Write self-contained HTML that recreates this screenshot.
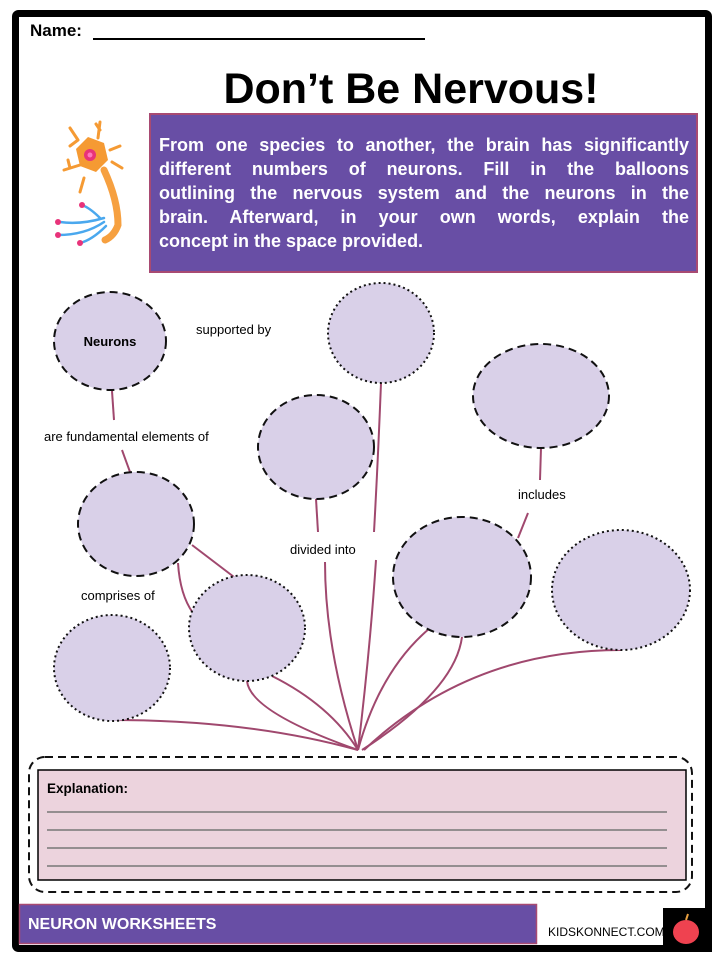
<!DOCTYPE html>
<html><head><meta charset="utf-8"><style>
html,body{margin:0;padding:0;background:#fff}
svg{display:block}
text{font-family:"Liberation Sans",sans-serif}
#para{position:absolute;left:159px;top:133px;width:530px;color:#fff;font-family:"Liberation Sans",sans-serif;font-weight:bold;font-size:18px;line-height:24px}
#para div{text-align:justify;text-align-last:justify;white-space:nowrap}
#para div.l{text-align-last:left}
</style></head><body>
<div style="position:relative;width:720px;height:960px">
<svg width="720" height="960" viewBox="0 0 720 960" xmlns="http://www.w3.org/2000/svg">
<rect x="0" y="0" width="720" height="960" fill="#fff"/>
<rect x="15.5" y="13.5" width="693" height="935" rx="3" fill="#fff" stroke="#000" stroke-width="7"/>
<text x="30" y="36" font-size="17" font-weight="bold">Name:</text>
<line x1="93" y1="39" x2="425" y2="39" stroke="#000" stroke-width="2"/>
<text x="411" y="103" font-size="43" font-weight="bold" text-anchor="middle">Don’t Be Nervous!</text>
<rect x="150" y="114" width="547" height="158" fill="#684ea5" stroke="#a84a72" stroke-width="2"/>
<!-- neuron icon -->
<g stroke="#f59a33" stroke-width="3" fill="none" stroke-linecap="round">
<path d="M78 140 L70 128 M78 140 L70 146 M98 138 L100 122 M100 130 L96 124 M110 150 L120 146 M112 162 L122 168 M80 165 L64 170 M70 168 L68 160 M84 178 L80 192"/>
<path d="M104 170 Q118 200 118 225 Q114 236 105 240" stroke="#f6a040" stroke-width="7"/>
<path d="M104 218 Q80 225 60 222 M104 222 Q85 235 58 235 M106 226 Q92 240 80 243 M100 218 Q90 208 82 205" stroke="#4aa8ee" stroke-width="2.5"/>
</g>
<polygon points="88,137 104,143 108,160 96,172 80,166 76,149" fill="#f59a33"/>
<circle cx="90" cy="155" r="6" fill="#e8337a"/><circle cx="90" cy="155" r="2.5" fill="#f7b"/>
<g fill="#e8337a"><circle cx="82" cy="205" r="3"/><circle cx="58" cy="222" r="3"/><circle cx="58" cy="235" r="3"/><circle cx="80" cy="243" r="3"/></g>
<!-- connectors -->
<g stroke="#a0486e" stroke-width="2" fill="none">
<path d="M112 391 L114 420"/>
<path d="M122 450 L130 472"/>
<path d="M192 545 L234 577"/>
<path d="M178 563 Q180 595 193 613"/>
<path d="M541 448 L540 480"/>
<path d="M528 513 L518 538"/>
<path d="M316 499 L318 532"/>
<path d="M381 383 Q378 460 374 532"/>
<path d="M113 720 Q250 720 358 750"/>
<path d="M247 681 Q250 712 358 750"/>
<path d="M272 676 Q330 705 358 750"/>
<path d="M325 562 Q325 650 358 750"/>
<path d="M376 560 Q370 650 358 750"/>
<path d="M430 628 Q380 670 358 750"/>
<path d="M462 637 Q455 690 362 750"/>
<path d="M621 650 Q470 650 364 750"/>
</g>
<!-- balloons -->
<g fill="#d9d0e8" stroke="#111" stroke-width="2">
<ellipse cx="110" cy="341" rx="56" ry="49" stroke-dasharray="8,5"/>
<ellipse cx="381" cy="333" rx="53" ry="50" stroke-dasharray="2,3"/>
<ellipse cx="541" cy="396" rx="68" ry="52" stroke-dasharray="8,5"/>
<ellipse cx="316" cy="447" rx="58" ry="52" stroke-dasharray="8,5"/>
<ellipse cx="136" cy="524" rx="58" ry="52" stroke-dasharray="8,5"/>
<ellipse cx="462" cy="577" rx="69" ry="60" stroke-dasharray="8,5"/>
<ellipse cx="621" cy="590" rx="69" ry="60" stroke-dasharray="2,3"/>
<ellipse cx="247" cy="628" rx="58" ry="53" stroke-dasharray="2,3"/>
<ellipse cx="112" cy="668" rx="58" ry="53" stroke-dasharray="2,3"/>
</g>
<g font-size="13">
<text x="110" y="346" font-weight="bold" text-anchor="middle">Neurons</text>
<text x="196" y="334">supported by</text>
<text x="44" y="441">are fundamental elements of</text>
<text x="290" y="554">divided into</text>
<text x="518" y="499">includes</text>
<text x="81" y="600">comprises of</text>
</g>
<!-- explanation -->
<rect x="29" y="757" width="663" height="135" rx="16" fill="none" stroke="#111" stroke-width="2" stroke-dasharray="8,5"/>
<rect x="38" y="770" width="648" height="110" fill="#ecd3dd" stroke="#000" stroke-width="1.5"/>
<text x="47" y="793" font-size="13.5" font-weight="bold">Explanation:</text>
<g stroke="#777" stroke-width="1.5">
<line x1="47" y1="812" x2="667" y2="812"/><line x1="47" y1="830" x2="667" y2="830"/>
<line x1="47" y1="848" x2="667" y2="848"/><line x1="47" y1="866" x2="667" y2="866"/>
</g>
<!-- footer -->
<rect x="19.5" y="904.5" width="517" height="39" fill="#684ea5" stroke="#a84a72" stroke-width="1.5"/>
<text x="28" y="929" font-size="16" font-weight="bold" fill="#fff">NEURON WORKSHEETS</text>
<text x="548" y="936" font-size="12">KIDSKONNECT.COM</text>
<rect x="663" y="908" width="49" height="44" fill="#000"/>
<ellipse cx="686" cy="932" rx="13" ry="12" fill="#ef4250"/>
<path d="M686 920 L688 914" stroke="#e8a040" stroke-width="2"/>
</svg>
<div id="para">
<div>From one species to another, the brain has significantly</div>
<div>different numbers of neurons. Fill in the balloons</div>
<div>outlining the nervous system and the neurons in the</div>
<div>brain. Afterward, in your own words, explain the</div>
<div class="l">concept in the space provided.</div>
</div>
</div>
</body></html>
